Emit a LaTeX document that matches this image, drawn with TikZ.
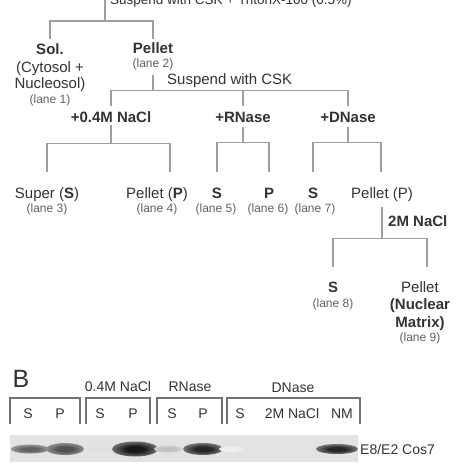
\documentclass[tikz,border=0pt]{standalone}
\usepackage{fontspec}
\setmainfont{Liberation Sans}
\usepackage{tikz}

\definecolor{txtgray}{gray}{0.2}
\definecolor{lanegray}{gray}{0.38}
\definecolor{linegray}{gray}{0.62}
\definecolor{boxgray}{gray}{0.45}
\definecolor{gelgray}{gray}{0.89}
\colorlet{bandcore}{black}
\pgfdeclareradialshading[bandcore,gelgray]{band}{\pgfpoint{0bp}{0bp}}{color(0bp)=(bandcore); color(10bp)=(bandcore); color(46bp)=(gelgray); color(50bp)=(gelgray)}

\begin{document}
\begin{tikzpicture}[x=1pt, y=-1pt,
  lbl/.style={font=\fontsize{15}{18}\selectfont, text=txtgray, inner sep=0pt, text height=10.7pt, text depth=0pt},
  bold/.style={lbl, font=\fontsize{15}{18}\selectfont\bfseries},
  lane/.style={font=\fontsize{12}{14}\selectfont, text=lanegray, inner sep=0pt, text height=8.6pt, text depth=0pt},
  gel/.style={font=\fontsize{14}{16}\selectfont, text=txtgray, inner sep=0pt, text height=10pt, text depth=0pt},
  branch/.style={draw=linegray, line width=1.1pt},
  bracket/.style={draw=boxgray, line width=1.3pt}]
\useasboundingbox (0,0) rectangle (474,474);
\clip (0,0) rectangle (474,474);
\fill[white] (0,0) rectangle (474,474);

% A: fractionation scheme
\coordinate (lysate) at (105,-20);
\node[lbl, anchor=west, font=\fontsize{13.5}{16}\selectfont] (csk1) at (110,-1) {Suspend with CSK + TritonX-100 (0.5\%)};
\node[bold] (sol) at (50,49) {Sol.};
\node[lbl] (cyto) at (50,67) {(Cytosol +};
\node[lbl] (nucl) at (50,83) {Nucleosol)};
\node[lane] (lane1) at (50,99) {(lane 1)};
\node[bold] (pel) at (153,48) {Pellet};
\node[lane] (lane2) at (153,63) {(lane 2)};
\draw[branch] (lysate) -- ++(0,41) -| ([yshift=4.6pt]sol.north);
\draw[branch] (lysate) -- ++(0,41) -| ([yshift=3.7pt]pel.north);

% second extraction
\node[lbl, anchor=west] (csk2) at (167,79) {Suspend with CSK};
\node[bold] (nacl) at (111,117) {+0.4M NaCl};
\node[bold] (rnase) at (243,117) {+RNase};
\node[bold] (dnase) at (348,117) {+DNase};
\foreach \t in {nacl, rnase, dnase}
  \draw[branch] ([yshift=-7pt]lane2.south) -- ++(0,16) -| ([yshift=5.6pt]\t.north);

% salt
\node[lbl] (super) at (47,193) {Super (\textbf{S})};
\node[lane] (lane3) at (47,208) {(lane 3)};
\node[lbl] (pelP) at (157,193) {Pellet (\textbf{P})};
\node[lane] (lane4) at (157,208) {(lane 4)};
\draw[branch] ([yshift=-2.6pt]nacl.south) -- ++(0,18) -| ([yshift=15.6pt]super.north);
\draw[branch] ([yshift=-2.6pt]nacl.south) -- ++(0,18) -| ([xshift=13pt,yshift=15.6pt]pelP.north);

% RNase
\node[bold] (rS) at (217,193) {S};
\node[lane] (lane5) at (216,208) {(lane 5)};
\node[bold] (rP) at (269,193) {P};
\node[lane] (lane6) at (268,208) {(lane 6)};
\draw[branch] ([yshift=-4.6pt]rnase.south) -- ++(0,15) -| ([yshift=15.6pt]rS.north);
\draw[branch] ([yshift=-4.6pt]rnase.south) -- ++(0,15) -| ([yshift=15.6pt]rP.north);

% DNase
\node[bold] (dS) at (313,193) {S};
\node[lane] (lane7) at (315,208) {(lane 7)};
\node[lbl] (dP) at (382,193) {Pellet (P)};
\draw[branch] ([yshift=-4.6pt]dnase.south) -- ++(0,15) -| ([yshift=15.6pt]dS.north);
\draw[branch] ([yshift=-4.6pt]dnase.south) -- ++(0,15) -| ([xshift=-1pt,yshift=15.6pt]dP.north);

% high salt
\node[bold, anchor=west] (salt) at (388,221) {2M NaCl};
\node[bold] (nS) at (333,287) {S};
\node[lane] (lane8) at (333,303) {(lane 8)};
\node[lbl] (nm) at (420,287) {Pellet};
\node[bold] (nm2) at (420,304) {(Nuclear};
\node[bold] (nm3) at (420,322) {Matrix)};
\node[lane] (lane9) at (420,337) {(lane 9)};
\draw[branch] ([yshift=-8.6pt]dP.south) -- ++(0,31) -| ([yshift=14.6pt]nS.north);
\draw[branch] ([yshift=-8.6pt]dP.south) -- ++(0,31) -| ([xshift=7pt,yshift=14.6pt]nm.north);

% B: western blot
\node[font=\fontsize{25}{28}\selectfont, text=txtgray, inner sep=0pt] (panelB) at (21,379) {B};
\node[gel] (hdnacl) at (118,386) {0.4M NaCl};
\node[gel] (hdrnase) at (190,386) {RNase};
\node[gel] (hddnase) at (293,387) {DNase};
\foreach \l/\r in {10/80, 86/150, 157/222, 227/360}
  \draw[bracket] (\l,424) -- (\l,398) -- (\r,398) -- (\r,424);
\foreach \x/\t [count=\i] in {28/S, 60/P, 100/S, 133/P, 172/S, 203/P, 240/S, 292/2M NaCl, 342/NM}
  \node[gel] (col\i) at (\x,413) {\t};

\fill[gelgray] (10,435) rectangle (358,462);
\foreach \x/\w/\h/\k in {30/19/4.5/62, 65/19/6/68, 99/14/3/12, 135/23/7.5/90,
                         168/14/3.5/25, 203/20/6/85, 231/12/3/6, 337/21/5/85}
{
  \colorlet{bandcore}{black!\k}
  \shade[shading=band] (\x,449) ellipse [x radius=\w, y radius=\h];
}
\node[gel, anchor=west] (blot) at (360,449) {E8/E2 Cos7};
\end{tikzpicture}
\end{document}
